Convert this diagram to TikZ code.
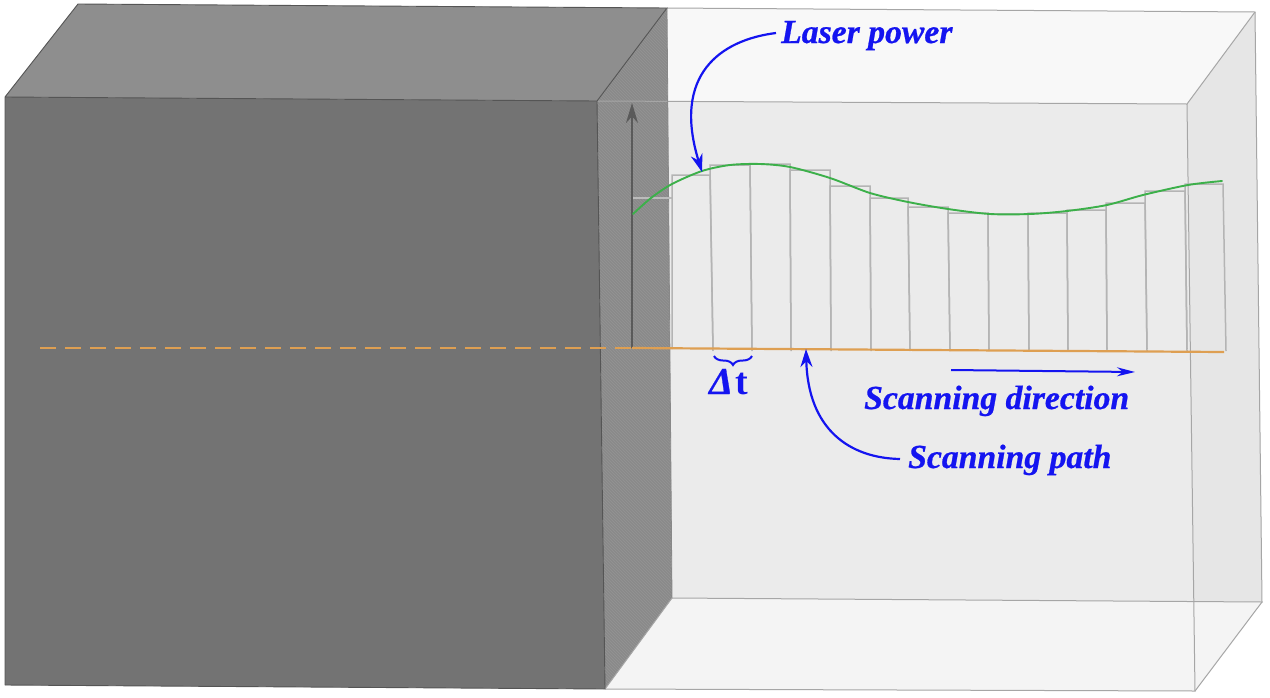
\documentclass[tikz,border=0pt]{standalone}
\usepackage{fontspec}
\setmainfont{Liberation Serif}
\newfontfamily\labelfont[BoldItalicFeatures={FakeBold=0.7}]{Liberation Serif}
\usetikzlibrary{arrows.meta,decorations.pathreplacing,patterns}
\definecolor{labelblue}{HTML}{1414F0}
\definecolor{pathorange}{HTML}{DE9F52}
\definecolor{powergreen}{HTML}{3CB04A}
\definecolor{frontgray}{HTML}{737373}
\definecolor{topgray}{HTML}{8E8E8E}
\definecolor{sidegray}{HTML}{8A8A8A}
\definecolor{sidehatch}{HTML}{949494}
\definecolor{backwall}{HTML}{EBEBEB}
\definecolor{topwall}{HTML}{F8F8F8}
\definecolor{floorwall}{HTML}{F4F4F4}
\definecolor{rightwall}{HTML}{E6E6E6}
\definecolor{edgegray}{HTML}{A6A6A6}
\definecolor{edgedark}{HTML}{555555}
\definecolor{bargray}{HTML}{B4B4B4}
\definecolor{axisgray}{HTML}{5A5A5A}
\tikzset{
  x=1pt,y=-1pt,
  lighteredge/.style={draw=edgegray,line width=1pt},
  darkedge/.style={draw=edgedark,line width=0.9pt},
  powerbar/.style={draw=bargray,line width=1.5pt},
  bluearrow/.style={draw=labelblue,line width=2.2pt,-{Stealth[length=18pt,width=12pt]}},
  bluelabel/.style={text=labelblue,font=\labelfont\bfseries\itshape\fontsize{33.7}{34}\selectfont,inner sep=0pt,anchor=base west},
}
\begin{document}
\begin{tikzpicture}
\useasboundingbox[fill=white] (0,0) rectangle (1270,697);
% corners of the solid block
\coordinate (A) at (5,97);
\coordinate (B) at (78,4);
\coordinate (C) at (667,8);
\coordinate (D) at (597,101);
\coordinate (E) at (5,685);
\coordinate (F) at (605,689);
\coordinate (G) at (672,598);
% corners of the transparent block
\coordinate (H) at (1255,12);
\coordinate (I) at (1187,104);
\coordinate (J) at (1262,602);
\coordinate (K) at (1195,691);
\coordinate (L) at (1194,601);
% faces
\fill[backwall] (C) -- (H) -- (J) -- (G) -- cycle;
\fill[topwall] (D) -- (C) -- (H) -- (I) -- cycle;
\fill[rightwall] (I) -- (H) -- (J) -- (L) -- cycle;
\fill[floorwall] (F) -- (G) -- (J) -- (K) -- cycle;
\fill[topgray] (A) -- (B) -- (C) -- (D) -- cycle;
\fill[sidegray] (D) -- (C) -- (G) -- (F) -- cycle;
\fill[pattern=north west lines,pattern color=sidehatch] (D) -- (C) -- (G) -- (F) -- cycle;
\fill[frontgray] (A) -- (D) -- (F) -- (E) -- cycle;
% light edges
\draw[lighteredge] (C) -- (H) -- (J) -- (G);
\draw[lighteredge] (D) -- (I) -- (K) -- (F);
\draw[lighteredge] (I) -- (H);
\draw[lighteredge] (J) -- (K);
\draw[lighteredge] (F) -- (G);
% dark edges
\draw[darkedge] (E) -- (A) -- (B) -- (C) -- (D) -- (A);
\draw[darkedge] (D) -- (F) -- (E);
\draw[draw=edgedark!70,line width=0.8pt] (C) -- (G);
% bars
\draw[draw=bargray!90!white,line width=1.1pt] (632,198) -- (672,198);
\foreach \xa/\xb/\xc/\xd/\ytop in {
 672/672/710/713/175, 710/713/750/752/165, 750/752/790/791/164,
 790/791/830/831/170, 830/831/870/871/186, 870/871/908/910/198,
 908/910/948/950/207, 948/950/988/989/213, 988/989/1028/1029/214,
 1028/1029/1067/1068/213, 1067/1068/1106/1107/210, 1106/1107/1145/1147/203,
 1145/1147/1185/1187/191, 1185/1187/1223/1226/184}{
  \draw[powerbar] (\xb,349) -- (\xa,\ytop) -- (\xc,\ytop) -- (\xd,351);
}
% axis and scan path
\coordinate (O) at (632,348);
\coordinate (axistop) at (632,103);
\coordinate (pathstart) at (40,348);
\coordinate (pathend) at (1224,352);
\draw[draw=axisgray,line width=1.4pt,-{Stealth[length=20pt,width=12pt]}] (O) -- (axistop);
\draw[draw=pathorange,line width=1.3pt,dash pattern=on 16pt off 9pt] (pathstart) -- (O);
\draw[draw=pathorange,line width=2.2pt] (O) -- (pathend);
% power curve
\draw[draw=powergreen,line width=1.9pt,line cap=round]
  plot[smooth,tension=0.5] coordinates {(633,214) (651,198) (672,184) (702,171) (730,165) (760,164) (790,167) (830,178) (870,193) (908,202) (948,209) (990,214) (1030,214) (1067,211) (1107,205) (1143,195) (1188,185) (1222,181)};
% labels
\node[bluelabel] (laser) at (781,43) {Laser power};
\node[bluelabel] (direction) at (864,409) {Scanning direction};
\node[bluelabel] (path) at (908,468) {Scanning path};
\node[text=labelblue,inner sep=0pt,anchor=base west,font=\labelfont\bfseries\fontsize{38}{38}\selectfont] (dt) at (709,394) {{\itshape Δ}\kern2pt t};
% label arrows
\coordinate (powerhit) at (702,172);
\coordinate (pathhit) at (806,349);
\coordinate (dirstart) at (951,370);
\coordinate (dirend) at (1135,372);
\draw[bluearrow] (laser.base west) ++(-5,-10) .. controls (720,40) and (672,75) .. (powerhit);
\draw[bluearrow] (path.base west) ++(-8,-9) .. controls (850,458) and (808,430) .. (pathhit);
\draw[draw=labelblue,line width=2pt,-{Stealth[length=18pt,width=9pt]}] (dirstart) -- (dirend);
% brace
\coordinate (bracel) at (714,356);
\coordinate (bracer) at (752,356);
\draw[draw=labelblue,line width=2pt,decorate,decoration={brace,amplitude=9pt,mirror}] (bracel) -- (bracer);
\end{tikzpicture}
\end{document}
